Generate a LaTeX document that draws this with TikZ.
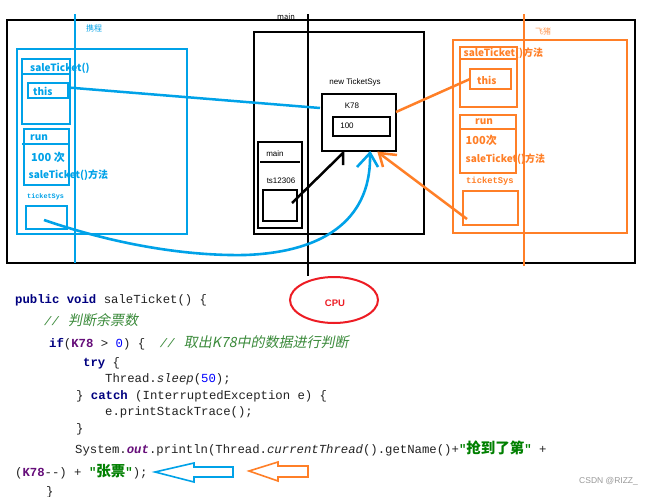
\documentclass[tikz,border=0pt]{standalone}
\usepackage{fontspec}
\usetikzlibrary{shapes.geometric}
\setmainfont{Liberation Sans}
\setmonofont{Liberation Mono}
\newfontfamily\cjk{Noto Sans CJK SC}
\newfontfamily\cjki{Noto Sans CJK SC}[FakeSlant=0.2]
\definecolor{bl}{HTML}{00A2E8}
\definecolor{or}{HTML}{FF7F27}
\definecolor{cpur}{HTML}{ED1C24}
\definecolor{kw}{HTML}{000080}
\definecolor{fld}{HTML}{660E7A}
\definecolor{cmt}{HTML}{3A8A3A}
\definecolor{str}{HTML}{008000}
\definecolor{txt}{HTML}{222222}
\newcommand{\kwd}[1]{\textcolor{kw}{\textbf{#1}}}
\newcommand{\fd}[1]{\textcolor{fld}{\textbf{#1}}}
\newcommand{\cm}[1]{\textcolor{cmt}{\textit{#1}}}
\newcommand{\cc}[1]{{\fontsize{14}{14}\selectfont\cjki #1}}
\newcommand{\st}[1]{\textcolor{str}{\textbf{"}{\fontsize{14.5}{14.5}\selectfont\cjk\bfseries #1}\textbf{"}}}
\newcommand{\bxx}[6]{\node[#2,minimum width=#5pt-#3pt,minimum height=#6pt-#4pt] (#1) at ({(#3+#5)/2},{(#4+#6)/2}) {};}
\tikzset{
  box/.style={draw,inner sep=0pt,outer sep=0pt,line width=#1},
  box/.default=2.5pt,
  bbox/.style={box=2.5pt,draw=bl},
  obox/.style={box=2.5pt,draw=or},
  kbox/.style={box=2.5pt,draw=black},
  blab/.style={text=bl,font=\fontsize{10}{11}\selectfont\cjk\bfseries,inner sep=0pt,anchor=west},
  olab/.style={text=or,font=\fontsize{10}{11}\selectfont\cjk\bfseries,inner sep=0pt,anchor=west},
  klab/.style={text=black,font=\fontsize{8}{9}\selectfont,inner sep=0pt},
  code/.style={anchor=base west,inner sep=0pt,text=txt,font=\fontsize{12.3}{13}\selectfont\ttfamily},
  bline/.style={draw=bl,line width=2.5pt},
  oline/.style={draw=or,line width=2.5pt},
  kline/.style={draw=black,line width=2.5pt}
}
\begin{document}
\begin{tikzpicture}[x=1pt,y=-1pt]
\clip (0,0) rectangle (662,496);
\fill[white] (0,0) rectangle (662,496);
% frame
\bxx{frame}{kbox}{7}{20}{635}{263}
% threads
\coordinate (tb1) at (75,14); \coordinate (tb2) at (75,263);
\coordinate (tk1) at (308,14); \coordinate (tk2) at (308,276);
\coordinate (to1) at (524,14); \coordinate (to2) at (524,266);
\draw[bline] (tb1) -- (tb2);
\draw[kline] (tk1) -- (tk2);
\draw[oline] (to1) -- (to2);
\node[inner sep=0pt,text=bl,font=\fontsize{8}{9}\selectfont\cjk] (xc) at (94,28.5) {携程};
\node[klab,font=\fontsize{7.5}{9}\selectfont\cjk] (mainT) at (286,17) {main};
\node[inner sep=0pt,text=or!80,font=\fontsize{8}{9}\selectfont\cjk] (fz) at (543,31) {飞猪};
% blue process
\bxx{bp}{bbox}{17}{49}{187}{234}
\bxx{bs}{bbox}{22}{59}{70}{124}
\coordinate (bsa) at (22,74); \coordinate (bsb) at (70,74);
\draw[bline] (bsa) -- (bsb);
\bxx{bthis}{bbox}{28}{83}{68}{98}
\bxx{brun}{bbox}{24}{129}{69}{185}
\coordinate (bra) at (22,144); \coordinate (brb) at (69,144);
\draw[bline] (bra) -- (brb);
\bxx{bt}{bbox}{26}{206}{67}{229}
\node[blab] (l1) at (30,68) {saleTicket()};
\node[blab] (l2) at (33,91) {this};
\node[blab] (l3) at (30,138) {run};
\node[blab,font=\fontsize{11}{12}\selectfont\cjk\bfseries] (l4) at (31,157) {100 次};
\node[blab] (l5) at (28.5,175) {saleTicket()方法};
\node[blab,font=\fontsize{6.8}{8}\selectfont\ttfamily\bfseries] (l6) at (27,196.5) {ticketSys};
% orange process
\bxx{op}{obox}{453}{40}{627}{233}
\bxx{os}{obox}{460}{47}{517}{107}
\coordinate (osa) at (460,59); \coordinate (osb) at (517,59);
\draw[oline] (osa) -- (osb);
\bxx{othis}{obox}{470}{69}{511}{89}
\bxx{orun}{obox}{460}{115}{516}{173}
\coordinate (ora) at (460,129); \coordinate (orb) at (516,129);
\draw[oline] (ora) -- (orb);
\bxx{ot}{obox}{463}{191}{518}{225}
\node[olab] (m1) at (463.5,53) {saleTicket()方法};
\node[olab] (m2) at (477,80) {this};
\node[olab] (m3) at (475,121.5) {run};
\node[olab,font=\fontsize{11}{12}\selectfont\cjk\bfseries] (m4) at (465.5,140) {100次};
\node[olab] (m5) at (465.5,159) {saleTicket()方法};
\node[olab,font=\fontsize{8.8}{9}\selectfont\ttfamily\bfseries] (m6) at (466,181.5) {ticketSys};
% heap
\bxx{heap}{kbox}{254}{32}{424}{234}
\bxx{k78}{kbox}{322}{94}{396}{151}
\bxx{v100}{kbox}{333}{117}{390}{136}
\bxx{stk}{kbox}{258}{142}{302}{228}
\coordinate (ska) at (260,162); \coordinate (skb) at (300,162);
\draw[kline] (ska) -- (skb);
\bxx{ts}{kbox}{263}{190}{297}{221}
\node[klab] (n1) at (355,82.5) {new TicketSys};
\node[klab] (n2) at (352,106) {K78};
\node[klab] (n3) at (347,126) {100};
\node[klab] (n4) at (275,153.5) {main};
\node[klab] (n5) at (281,181) {ts12306};
% connectors
\draw[bline] ([yshift=3pt]bthis.east) -- ([xshift=-2pt,yshift=14.5pt]k78.west);
\coordinate (bstart) at (44,220);
\coordinate (btip) at (370,153);
\draw[bline,line width=2.6pt] (bstart) .. controls (120,246) and (190,256) .. (245,255) .. controls (330,252) and (372,215) .. (btip);
\coordinate (bh1) at (357,167); \coordinate (bh2) at (378,167);
\draw[bline,line width=2.6pt] (bh1) -- (btip) -- (bh2);
\draw[oline] ([yshift=0pt]othis.west) -- ([yshift=10.5pt]k78.east);
\coordinate (ostart) at (467,219);
\coordinate (otip) at (379,153);
\draw[oline] (ostart) -- (otip);
\coordinate (oh1) at (397,155); \coordinate (oh2) at (383,167);
\draw[oline] (oh1) -- (otip) -- (oh2);
\coordinate (kstart) at (292,203);
\coordinate (ktip) at (343,153);
\coordinate (ktick) at (343,165);
\draw[kline] (kstart) -- (ktip) -- (ktick);
% CPU
\node[draw=cpur,line width=2pt,ellipse,minimum width=88pt,minimum height=46pt,inner sep=0pt] (cpu) at (334,300) {};
\node[inner sep=0pt,text=cpur,font=\fontsize{9.5}{10}\selectfont\bfseries] (cput) at (335,303) {CPU};
% code
\node[code] (c1) at (15,303) {\kwd{public void} saleTicket() \{};
\node[code] (c2) at (44,325) {\cm{// }\hspace{1.5pt}\textcolor{cmt}{\cc{判断余票数}}};
\node[code] (c3) at (49,347) {\kwd{if}(\fd{K78} > \textcolor{blue}{0}) \{\ \ \cm{// }\hspace{1.5pt}\textcolor{cmt}{\cc{取出K78中的数据进行判断}}};
\node[code] (c4) at (83,366) {\kwd{try} \{};
\node[code] (c5) at (105,382) {Thread.\textit{sleep}(\textcolor{blue}{50});};
\node[code] (c6) at (76,399) {\} \kwd{catch} (InterruptedException e) \{};
\node[code] (c7) at (105,415) {e.printStackTrace();};
\node[code] (c8) at (76,432) {\}};
\node[code] (c9) at (75,453) {System.\textcolor{fld}{\textbf{\textit{out}}}.println(Thread.\textit{currentThread}().getName()+\st{抢到了第} +};
\node[code] (c10) at (15,476) {(\fd{K78}--) + \st{张票});};
\node[code] (c11) at (46,495) {\}};
% code arrows
\draw[draw=bl,line width=1.6pt,line join=miter] (155,472) -- (194,463) -- (194,467) -- (233,467) -- (233,477) -- (194,477) -- (194,482) -- cycle;
\draw[draw=or,line width=1.6pt,line join=miter] (249,471) -- (278,462) -- (278,466) -- (308,466) -- (308,477) -- (278,477) -- (278,481) -- cycle;
\node[inner sep=0pt,text=gray!80,font=\fontsize{8.5}{9}\selectfont,anchor=west] (wm) at (579,481) {CSDN @RIZZ\_};
\end{tikzpicture}
\end{document}
